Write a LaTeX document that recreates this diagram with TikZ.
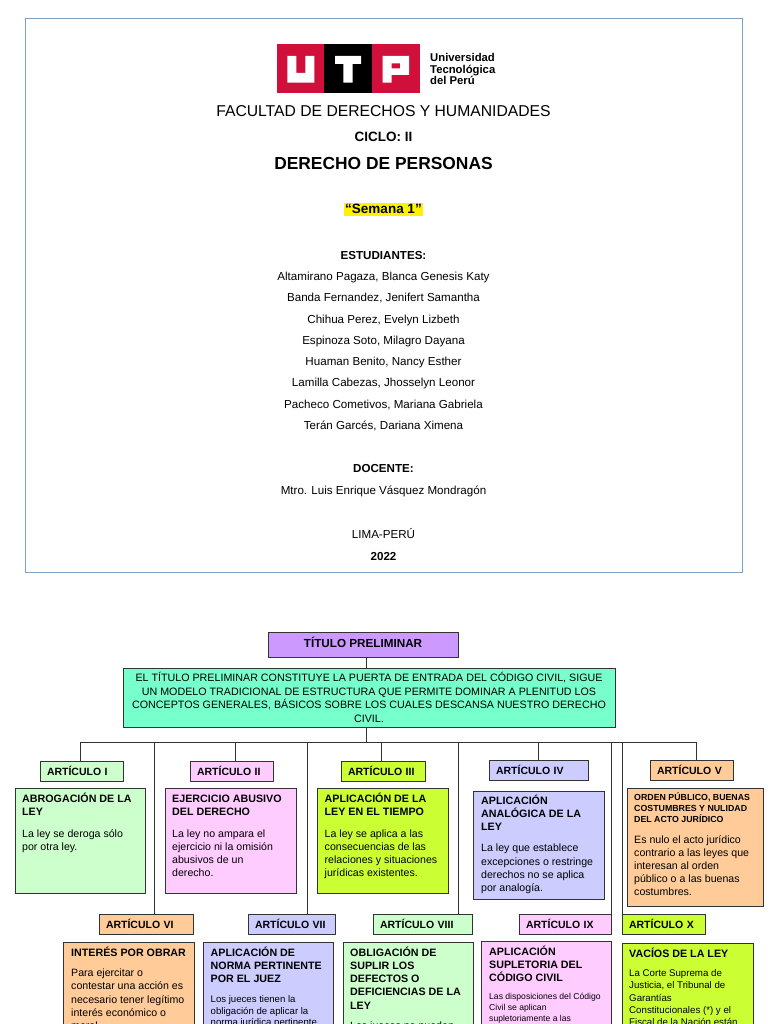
\documentclass[tikz,border=0pt]{standalone}
\usepackage{fontspec}
\setmainfont{Liberation Sans}
\definecolor{borde}{HTML}{7FA3C7}
\definecolor{rojoutp}{HTML}{D0103A}
\definecolor{lila}{HTML}{CC99FF}
\definecolor{aguamar}{HTML}{77FFCC}
\definecolor{verdecl}{HTML}{CCFFCC}
\definecolor{rosa}{HTML}{FFCCFF}
\definecolor{lima}{HTML}{CCFF33}
\definecolor{azulcl}{HTML}{CCCCFF}
\definecolor{naranja}{HTML}{FFCC99}
\definecolor{linea}{HTML}{333333}
\tikzset{
  tapa/.style={inner sep=0pt,anchor=base,font=\fontsize{11.6}{14}\selectfont},
  tapab/.style={tapa,font=\fontsize{11.6}{14}\selectfont\bfseries},
  art/.style={draw=linea,line width=0.9pt,align=left,inner xsep=7pt,inner ysep=0pt,
    minimum height=20pt,font=\fontsize{10.5}{13}\selectfont\bfseries},
  caja/.style={draw=linea,line width=0.9pt,inner sep=0pt},
  tit/.style={anchor=base west,inner sep=0pt,align=left,font=\fontsize{10.7}{13.3}\selectfont\bfseries},
  txt/.style={anchor=base west,inner sep=0pt,align=left,font=\fontsize{10.6}{13.2}\selectfont},
}
\begin{document}
\begin{tikzpicture}[x=1pt,y=-1pt]
  \useasboundingbox (0,0) rectangle (768,1024);
  \fill[white] (0,0) rectangle (768,1024);
  \draw[borde,line width=0.9pt] (25,18) rectangle (742,572);
  % logo
  \fill[rojoutp] (277,44) rectangle (420,93);
  \fill[black] (324,44) rectangle (371.5,93);
  \fill[white] (287.3,56) -- (296.3,56) -- (296.3,73) -- (305.3,73) -- (305.3,56) -- (314.3,56)
    -- (314.3,82.7) -- (287.3,82.7) -- cycle;
  \fill[white] (335,56) -- (361,56) -- (361,64) -- (352.7,64) -- (352.7,82.7) -- (343.3,82.7)
    -- (343.3,64) -- (335,64) -- cycle;
  \fill[white,even odd rule] (382.7,56) -- (409,56) -- (409,75) -- (391.7,75) -- (391.7,82.7)
    -- (382.7,82.7) -- cycle (391.7,63.3) rectangle (400,68.3);
  \node[anchor=base west,inner sep=0pt,align=left,font=\fontsize{11.3}{11.6}\selectfont\bfseries] (marca)
    at (430,85) {Universidad\\Tecnológica\\del Perú};
  % tapa
  \node[tapa,font=\fontsize{15.7}{18}\selectfont] (facultad) at (383.5,116.5) {FACULTAD DE DERECHOS Y HUMANIDADES};
  \node[tapab,font=\fontsize{13.5}{15}\selectfont\bfseries] (ciclo) at (383.5,141.5) {CICLO: II};
  \node[tapab,font=\fontsize{17.4}{19}\selectfont\bfseries] (curso) at (383.5,170) {DERECHO DE PERSONAS};
  \node[tapab,font=\fontsize{13.5}{15}\selectfont\bfseries,fill=yellow,inner xsep=1pt,inner ysep=2pt] (semana) at (383.5,214) {“Semana 1”};
  \node[tapab] (estudiantes) at (383.5,259) {ESTUDIANTES:};
  \node[tapa] (est1) at (383.5,280) {Altamirano Pagaza, Blanca Genesis Katy};
  \node[tapa] (est2) at (383.5,301.5) {Banda Fernandez, Jenifert Samantha};
  \node[tapa] (est3) at (383.5,323) {Chihua Perez, Evelyn Lizbeth};
  \node[tapa] (est4) at (383.5,344) {Espinoza Soto, Milagro Dayana};
  \node[tapa] (est5) at (383.5,365) {Huaman Benito, Nancy Esther};
  \node[tapa] (est6) at (383.5,386.5) {Lamilla Cabezas, Jhosselyn Leonor};
  \node[tapa] (est7) at (383.5,408) {Pacheco Cometivos, Mariana Gabriela};
  \node[tapa] (est8) at (383.5,429) {Terán Garcés, Dariana Ximena};
  \node[tapab] (docente) at (383.5,472.5) {DOCENTE:};
  \node[tapa] (mtro) at (383.5,494) {Mtro. Luis Enrique Vásquez Mondragón};
  \node[tapa] (lima) at (383.5,538) {LIMA-PERÚ};
  \node[tapab] (anio) at (383.5,560) {2022};
  % cabecera
  \node[caja,fill=lila,minimum width=190pt,minimum height=25pt,text depth=5pt,font=\fontsize{11.7}{13}\selectfont\bfseries] (titulo)
    at (363,644.5) {TÍTULO PRELIMINAR};
  \node[caja,fill=aguamar,minimum width=492pt,minimum height=59pt,align=center,font=\fontsize{10.7}{13.5}\selectfont] (desc)
    at (369,697.5) {EL TÍTULO PRELIMINAR CONSTITUYE LA PUERTA DE ENTRADA DEL CÓDIGO CIVIL, SIGUE\\
    UN MODELO TRADICIONAL DE ESTRUCTURA QUE PERMITE DOMINAR A PLENITUD LOS\\
    CONCEPTOS GENERALES, BÁSICOS SOBRE LOS CUALES DESCANSA NUESTRO DERECHO\\
    CIVIL.};
  % articulos
  \node[art,fill=verdecl,text width=69pt] (art1) at (81.5,771) {ARTÍCULO I};
  \node[art,fill=rosa,text width=69pt] (art2) at (231.5,771) {ARTÍCULO II};
  \node[art,fill=lima,text width=70pt] (art3) at (383,771) {ARTÍCULO III};
  \node[art,fill=azulcl,text width=85pt] (art4) at (538.5,770) {ARTÍCULO IV};
  \node[art,fill=naranja,text width=69pt] (art5) at (691.5,770) {ARTÍCULO V};
  \node[art,fill=naranja,text width=80pt] (art6) at (146,924) {ARTÍCULO VI};
  \node[art,fill=azulcl,text width=73pt] (art7) at (291.5,924) {ARTÍCULO VII};
  \node[art,fill=verdecl,text width=85pt] (art8) at (422.5,924) {ARTÍCULO VIII};
  \node[art,fill=rosa,text width=78pt] (art9) at (565,924) {ARTÍCULO IX};
  \node[art,fill=lima,text width=69pt] (art10) at (663.5,924) {ARTÍCULO X};
  % cajas
  \node[caja,fill=verdecl,minimum width=130pt,minimum height=105pt] (caja1) at (80,840.5) {};
  \node[caja,fill=rosa,minimum width=131pt,minimum height=105pt] (caja2) at (230.5,840.5) {};
  \node[caja,fill=lima,minimum width=131pt,minimum height=105pt] (caja3) at (382.5,840.5) {};
  \node[caja,fill=azulcl,minimum width=131pt,minimum height=108pt] (caja4) at (538.5,845) {};
  \node[caja,fill=naranja,minimum width=136pt,minimum height=118pt] (caja5) at (695,847) {};
  \node[caja,fill=naranja,minimum width=131pt,minimum height=100pt] (caja6) at (128.5,992) {};
  \node[caja,fill=azulcl,minimum width=130pt,minimum height=100pt] (caja7) at (268,992) {};
  \node[caja,fill=verdecl,minimum width=130pt,minimum height=100pt] (caja8) at (408,992) {};
  \node[caja,fill=rosa,minimum width=130pt,minimum height=100pt] (caja9) at (546,991) {};
  \node[caja,fill=lima,minimum width=131pt,minimum height=100pt] (caja10) at (687.5,993) {};
  % textos
  \node[tit] (tit1) at (22,815.3) {ABROGACIÓN DE LA\\LEY};
  \node[txt] (txt1) at (22,850.2) {La ley se deroga sólo\\por otra ley.};
  \node[tit] (tit2) at (172,815.3) {EJERCICIO ABUSIVO\\DEL DERECHO};
  \node[txt] (txt2) at (172,876.6) {La ley no ampara el\\ejercicio ni la omisión\\abusivos de un\\derecho.};
  \node[tit] (tit3) at (324.5,815.3) {APLICACIÓN DE LA\\LEY EN EL TIEMPO};
  \node[txt] (txt3) at (324.5,876.6) {La ley se aplica a las\\consecuencias de las\\relaciones y situaciones\\jurídicas existentes.};
  \node[tit] (tit4) at (481,830.6) {APLICACIÓN\\ANALÓGICA DE LA\\LEY};
  \node[txt] (txt4) at (481,891.5) {La ley que establece\\excepciones o restringe\\derechos no se aplica\\por analogía.};
  \node[tit,font=\fontsize{8.8}{11.2}\selectfont\bfseries] (tit5) at (634,822.4) {ORDEN PÚBLICO, BUENAS\\COSTUMBRES Y NULIDAD\\DEL ACTO JURÍDICO};
  \node[txt,font=\fontsize{10.6}{13}\selectfont] (txt5) at (634,895.5) {Es nulo el acto jurídico\\contrario a las leyes que\\interesan al orden\\público o a las buenas\\costumbres.};
  \node[tit] (tit6) at (71,956) {INTERÉS POR OBRAR};
  \node[txt] (txt6) at (71,1029.5) {Para ejercitar o\\contestar una acción es\\necesario tener legítimo\\interés económico o\\moral.};
  \node[tit] (tit7) at (210.5,982.6) {APLICACIÓN DE\\NORMA PERTINENTE\\POR EL JUEZ};
  \node[txt,font=\fontsize{9.6}{11.6}\selectfont] (txt7) at (210.5,1025.7) {Los jueces tienen la\\obligación de aplicar la\\norma jurídica pertinente};
  \node[tit] (tit8) at (350,1009.2) {OBLIGACIÓN DE\\SUPLIR LOS\\DEFECTOS O\\DEFICIENCIAS DE LA\\LEY};
  \node[txt] (txt8) at (350,1029.5) {Los jueces no pueden};
  \node[tit] (tit9) at (489,981.6) {APLICACIÓN\\SUPLETORIA DEL\\CÓDIGO CIVIL};
  \node[txt,font=\fontsize{8.6}{11}\selectfont] (txt9) at (489,1021.5) {Las disposiciones del Código\\Civil se aplican\\supletoriamente a las};
  \node[tit] (tit10) at (629,957) {VACÍOS DE LA LEY};
  \node[txt,font=\fontsize{9.7}{12.2}\selectfont] (txt10) at (629,1025.5) {La Corte Suprema de\\Justicia, el Tribunal de\\Garantías\\Constitucionales (*) y el\\Fiscal de la Nación están};
  % conectores
  \coordinate (barra) at (366.5,742);
  \coordinate (b1) at (80,742);
  \coordinate (b2) at (235,742);
  \coordinate (b3) at (381,742);
  \coordinate (b4) at (538,742);
  \coordinate (b5) at (696,742);
  \coordinate (b6) at (154,742);
  \coordinate (b7) at (307,742);
  \coordinate (b8) at (458,742);
  \coordinate (b9) at (611.5,742);
  \coordinate (b10) at (622,742);
  \begin{scope}[draw=linea,line width=0.9pt]
    \draw (barra |- titulo.south) -- (barra |- desc.north);
    \draw (barra |- desc.south) -- (barra);
    \draw (b1) -- (b5);
    \draw (b1) -- (b1 |- art1.north);
    \draw (b2) -- (b2 |- art2.north);
    \draw (b3) -- (b3 |- art3.north);
    \draw (b4) -- (b4 |- art4.north);
    \draw (b5) -- (b5 |- art5.north);
    \draw (b6) -- (b6 |- art6.north);
    \draw (b7) -- (b7 |- art7.north);
    \draw (b8) -- (b8 |- art8.north);
    \draw (b9) -- (b9 |- art9.north);
    \draw (b10) -- (b10 |- art10.north);
  \end{scope}
\end{tikzpicture}
\end{document}
